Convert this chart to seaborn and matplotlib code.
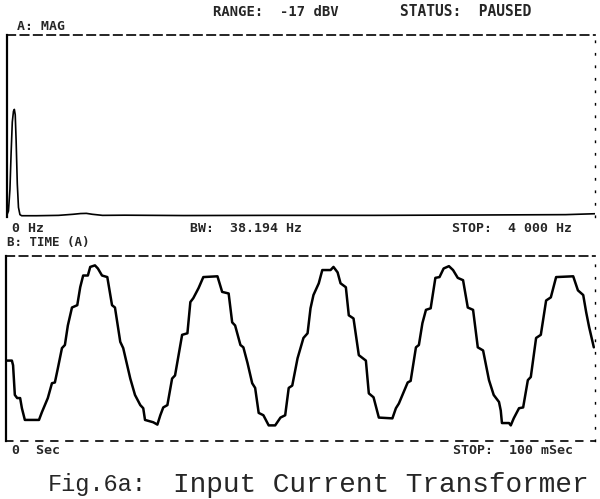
import numpy as np
import pandas as pd
import matplotlib
matplotlib.use("Agg")
import matplotlib.pyplot as plt
import seaborn as sns

# Traza A: espectro (magnitud relativa a escala completa)
freq_hz = [0, 10, 20, 28, 36, 44, 50, 56, 62, 70, 78, 88, 100, 200, 350, 450,
           500, 540, 580, 650, 800, 1200, 1800, 2500, 3200, 3800, 4000]
mag = [0.01, 0.03, 0.15, 0.35, 0.52, 0.58, 0.59, 0.56, 0.42, 0.18, 0.05, 0.01,
       0.004, 0.004, 0.006, 0.012, 0.016, 0.017, 0.012, 0.006, 0.007, 0.005,
       0.006, 0.006, 0.008, 0.01, 0.015]

# Traza B: corriente en el tiempo (ms, A relativos)
time_ms = [0.0, 1.0, 1.2, 1.5, 1.9, 2.4, 2.7, 3.2, 5.6, 6.1, 6.6, 7.1, 7.8, 8.3,
           8.8, 9.5, 10.0, 10.5, 11.2, 12.1, 12.6, 13.1, 13.9, 14.3, 15.1, 15.6,
           16.3, 17.2, 18.0, 18.5, 19.4, 19.9, 21.1, 21.9, 22.8, 23.3, 23.6, 25.0,
           25.7, 26.2, 26.7, 27.4, 28.2, 28.7, 29.9, 30.8, 31.3, 31.8, 32.7, 33.5,
           35.9, 36.7, 37.8, 38.4, 38.9, 39.8, 40.3, 41.0, 41.8, 42.3, 42.9, 43.7,
           44.6, 45.7, 46.6, 47.4, 48.0, 48.6, 49.5, 50.0, 50.5, 51.2, 51.7, 52.2,
           53.1, 53.7, 55.1, 55.6, 56.3, 56.8, 57.7, 58.2, 59.0, 59.9, 61.1, 61.6,
           62.4, 63.3, 65.6, 66.2, 66.7, 68.2, 68.7, 69.6, 70.1, 70.7, 71.3, 72.1,
           72.9, 73.6, 74.3, 75.2, 75.9, 76.7, 77.6, 78.4, 79.3, 80.1, 81.0, 82.0,
           82.8, 83.7, 84.0, 84.2, 85.4, 85.7, 86.2, 87.1, 87.8, 88.6, 89.1, 90.0,
           90.8, 91.7, 92.5, 93.4, 96.3, 97.1, 98.0, 98.5, 99.0, 99.8]
current = [-0.21, -0.21, -0.27, -0.65, -0.69, -0.69, -0.82, -0.97, -0.97, -0.87,
           -0.78, -0.69, -0.50, -0.49, -0.31, -0.05, -0.01, 0.24, 0.47, 0.50,
           0.73, 0.88, 0.88, 0.99, 1.01, 0.97, 0.88, 0.86, 0.50, 0.47, 0.03,
           -0.05, -0.44, -0.65, -0.78, -0.82, -0.97, -1.00, -1.03, -0.91, -0.81,
           -0.78, -0.44, -0.40, 0.12, 0.14, 0.54, 0.59, 0.72, 0.86, 0.87, 0.67,
           0.65, 0.28, 0.24, -0.01, -0.04, -0.24, -0.50, -0.56, -0.88, -0.91,
           -1.04, -1.04, -0.94, -0.91, -0.56, -0.53, -0.18, -0.05, 0.08, 0.14,
           0.46, 0.63, 0.78, 0.95, 0.95, 0.99, 0.92, 0.78, 0.73, 0.37, 0.33,
           -0.14, -0.21, -0.63, -0.68, -0.94, -0.95, -0.82, -0.76, -0.49, -0.47,
           -0.04, -0.01, 0.27, 0.44, 0.46, 0.85, 0.86, 0.97, 1.00, 0.95, 0.85,
           0.82, 0.47, 0.44, -0.04, -0.08, -0.46, -0.65, -0.74, -0.85, -1.01,
           -1.01, -1.04, -0.95, -0.82, -0.81, -0.46, -0.42, 0.08, 0.12, 0.56,
           0.60, 0.86, 0.87, 0.69, 0.63, 0.41, 0.22, -0.04]

spec = pd.DataFrame({"f": freq_hz, "mag": mag})
wave = pd.DataFrame({"t": time_ms, "i": current})

sns.set_style("white")
plt.rcParams['font.family'] = ['DejaVu Sans Mono', 'DejaVu Sans']

W, H = 600, 499
fig = plt.figure(figsize=(6, 4.99), dpi=100)


def box(x0, y0, x1, y1):
    # convierte pixeles (origen arriba-izquierda) a fraccion de figura
    return [x0 / W, 1 - y1 / H, (x1 - x0) / W, (y1 - y0) / H]


def frame(ax, bottom_dashed):
    ax.set_xticks([])
    ax.set_yticks([])
    ax.set_xlabel('')
    ax.set_ylabel('')
    ax.spines['left'].set_linewidth(1.6)
    ax.spines['top'].set_linewidth(1.2)
    ax.spines['top'].set_linestyle((0, (5, 3)))
    ax.spines['right'].set_linewidth(1.0)
    ax.spines['right'].set_linestyle((0, (1, 8)))
    if bottom_dashed:
        ax.spines['bottom'].set_linewidth(1.2)
        ax.spines['bottom'].set_linestyle((0, (4, 5)))
    else:
        ax.spines['bottom'].set_visible(False)
    for s in ax.spines.values():
        s.set_color('black')


# Panel A: magnitud
ax1 = fig.add_axes(box(7, 35, 595, 217))
sns.lineplot(data=spec, x="f", y="mag", ax=ax1, color='black', linewidth=1.2,
             estimator=None, sort=False)
ax1.set_xlim(0, 4000)
ax1.set_ylim(-0.003, 1)
frame(ax1, False)

# Panel B: tiempo
ax2 = fig.add_axes(box(6, 256, 595, 441))
sns.lineplot(data=wave, x="t", y="i", ax=ax2, color='black', linewidth=1.8,
             estimator=None, sort=False)
ax2.set_xlim(0, 100)
ax2.set_ylim(-1.24, 1.13)
frame(ax2, True)


def label(x, y, s, size=9.5, **kw):
    fig.text(x / W, 1 - y / H, s, fontsize=size, fontweight='bold',
             va='center', ha='left', **kw)


label(213, 12, "RANGE:  -17 dBV", size=10)
label(400, 12, "STATUS:  PAUSED", size=10.5)
label(17, 27, "A: MAG", size=9.5)
label(12, 228, "0 Hz", size=9.5)
label(190, 228, "BW:  38.194 Hz", size=9.5)
label(452, 228, "STOP:  4 000 Hz", size=9.5)
label(7, 243, "B: TIME (A)", size=9)
label(12, 451, "0  Sec", size=9.5)
label(453, 451, "STOP:  100 mSec", size=9.5)

fig.text(48 / W, 1 - 485 / H, "Fig.6a:", fontsize=17, family='Liberation Mono',
         va='center', ha='left')
fig.text(173 / W, 1 - 485 / H, "Input Current Transformer", fontsize=20,
         family='Liberation Mono', va='center', ha='left')

fig.savefig("out.png", dpi=100)
